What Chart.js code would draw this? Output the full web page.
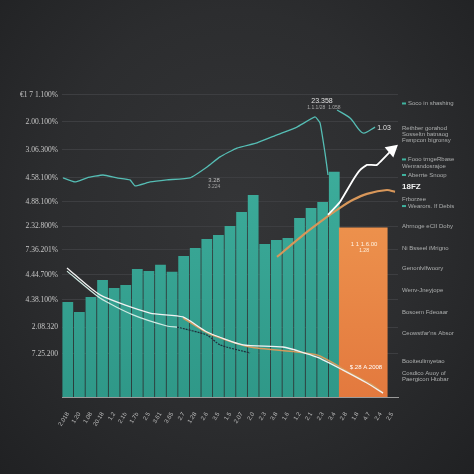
<!DOCTYPE html>
<html><head><meta charset="utf-8">
<script src="https://cdn.jsdelivr.net/npm/chart.js@4"></script>
<style>
html,body{margin:0;padding:0;width:474px;height:474px;overflow:hidden;
background:radial-gradient(ellipse at 50% 45%, #343537 0%, #2c2d2f 55%, #202123 100%);}
#wrap{position:absolute;left:0;top:0;width:474px;height:474px;}
</style></head><body><div id="wrap"><canvas id="c" width="474" height="474"></canvas></div>
<script>
// ---- data ----
const categories = ["2.018","1.20","1.08","20.18","1.2","2.1b","1.7b","2.5","3.61","3.65","2.7","1.28","2.6","3.5","1.5","2.07","2.0","2.3","3.8","1.6","1.2","2.1","2.3","3.4","2.8","1.8","4.7","2.4","2.5"];
const barValues = [367,328,386,452,421,432,494,486,510,483,544,575,610,625,660,714,780,591,606,614,691,730,753,869];
const highlightX = [26.0];
const highlightValues = [653];

const yTickValues = [166,270,375,471,568,660,753,846,954,1062,1166];
const yTickLabels = ["7.25.200","2.08.320","4.38.100%","4.44.700%","7.36.201%","2.32.800%","4.88.100%","4.58.100%","3.06.300%","2.00.100%","€1 7 1.100%"];

const tealX = [0.09,1.12,2.16,3.54,4.75,5.87,6.30,7.60,9.06,11.05,12.52,13.64,15.10,16.83,18.56,20.28,21.84,22.27,22.70,22.96];
const tealY = [846,830,846,857,846,838,815,830,838,846,888,927,961,981,1012,1042,1081,1058,942,857];
const tealTailX = [23.74,24.86,25.98,27.02];
const tealTailY = [1108,1077,1019,1042];

const arrowX = [22.96,23.99,25.12,25.72,26.32,27.19,28.48];
const arrowY = [703,753,838,876,896,896,954];

const riseX = [18.56,20.80,22.87,23.99,25.12,26.32,28.05,28.74];
const riseY = [541,625,695,730,761,784,799,792];

const fallWhiteX = [0.43,3.28,7.60,10.44,12.52,15.62,19.07,22.01,24.25,26.32,27.71];
const fallWhiteY = [498,394,324,309,251,201,193,154,104,54,15];

const fallPaleX = [0.43,3.28,6.13,9.06,9.93];
const fallPaleY = [486,382,317,274,270];

const fallDarkX = [9.93,12.52,13.64,16.23];
const fallDarkY = [270,239,201,170];

const fallOrangeX = [10.44,12.77,16.23,22.01,24.86,26.84,27.71];
const fallOrangeY = [305,243,193,162,93,46,15];

const sideNotes = [
 ["Soco in shashing",1133,true],["Rethber gorahod",1036],["Sosseltn batnaog",1013],["Fwnpcon bigronsy",990],
 ["Fooo trngeRbase",917,true],["Wenrandosrajoe",892],["Aberrte Snoop",857,true],["18FZ",811,false,true],
 ["Frborzee",764],["Wearors. If Debis",737,true],["Ahrnoge eCII Doby",660],["Ni Bsseel iMrigno",575],
 ["Genonlvlfwoory",498],["Wenv-Jneyjope",413],["Bosoem Fdeoaar",328],["Ceowstfar'ns Absor",247],
 ["Booiteulimyetao",139],["Cosdico Auoy of",93],["Paergicon Htobar",69]
];
const notes = [
 ["23.358",22.44,1143,7,"#e0e0e0"],["1.1.1/28  1.058",22.61,1116,5,"#a8a8a8"],
 ["1.03",27.79,1039,7,"#e0e0e0"],["3.28",13.12,838,6,"#bdbdbd"],["3.224",13.12,811,5,"#a0a0a0"],
 ["1 1 1.6.00",26.07,591,6,"#fff2e0"],["1.28",26.07,564,5,"#fff2e0"],["$.28 A.2008",26.24,116,6,"#ffffff"]
];

const pts = (xs, ys) => xs.map((x,i)=>({x, y: ys[i]}));

function vGrad(ctx, c1, c2){
  const ch = ctx.chart; const a = ch.chartArea;
  if(!a) return c1;
  const g = ch.ctx.createLinearGradient(0, a.top, 0, a.bottom);
  g.addColorStop(0, c1); g.addColorStop(1, c2); return g;
}

const textPlugin = {
  id:'texts',
  afterDraw(chart){
    const c = chart.ctx, xl = chart.scales.xl, y = chart.scales.y, a = chart.chartArea;
    c.save();
    c.textBaseline = 'middle';
    for(const [t,u,v,s,col] of notes){
      c.font = s + 'px "Liberation Sans", sans-serif';
      c.fillStyle = col; c.textAlign = 'center';
      c.fillText(t, xl.getPixelForValue(u), y.getPixelForValue(v));
    }
    const x0 = a.right + 4;
    for(const [t,v,mark,bold] of sideNotes){
      const py = y.getPixelForValue(v);
      c.textAlign = 'left';
      if(bold){ c.font = 'bold 8px "Liberation Sans", sans-serif'; c.fillStyle = '#f0f0f0'; }
      else { c.font = '6px "Liberation Sans", sans-serif'; c.fillStyle = '#acaeae'; }
      if(mark){ c.fillStyle = '#3fb39f'; c.fillRect(x0, py-1, 4, 2); c.fillStyle = '#acaeae'; c.fillText(t, x0+6, py); }
      else c.fillText(t, x0, py);
    }
    c.restore();
  }
};

new Chart(document.getElementById('c'), {
  type:'bar',
  data:{ labels: categories, datasets:[
    {type:'line', xAxisID:'xl', data:pts(tealX,tealY), borderColor:'#55bdb4', borderWidth:1.3, pointRadius:0, tension:0.12, order:0},
    {type:'line', xAxisID:'xl', data:pts(tealTailX,tealTailY), borderColor:'#55bdb4', borderWidth:1.3, pointRadius:0, tension:0.3, order:0},
    {type:'line', xAxisID:'xl', data:pts(riseX,riseY), borderColor:'#d8975a', borderWidth:2.2, pointRadius:0, tension:0.2, order:1},
    {type:'line', xAxisID:'xl', data:pts(arrowX,arrowY), borderColor:'#ffffff', borderWidth:1.8, tension:0.1, order:0,
      pointRadius: arrowX.map((_,i)=> i===arrowX.length-1 ? 6 : 0), pointStyle:'triangle', pointRotation:50,
      pointBackgroundColor:'#ffffff', pointBorderColor:'#ffffff'},
    {type:'line', xAxisID:'xl', data:pts(fallPaleX,fallPaleY), borderColor:'#cfe9e2', borderWidth:1.2, pointRadius:0, tension:0.2, order:1},
    {type:'line', xAxisID:'xl', data:pts(fallWhiteX,fallWhiteY), borderColor:'#f2f2f2', borderWidth:1.3, pointRadius:0, tension:0.2, order:1},
    {type:'line', xAxisID:'xl', data:pts(fallOrangeX,fallOrangeY), borderColor:'#d39a5c', borderWidth:1.6, pointRadius:0, tension:0.2, order:1},
    {type:'line', xAxisID:'xl', data:pts(fallDarkX,fallDarkY), borderColor:'#1f2d3a', borderWidth:1.2, borderDash:[2,1], pointRadius:0, tension:0.2, order:1},
    {type:'bar', data:barValues, backgroundColor:(ctx)=>vGrad(ctx,'#41b3a1','#2f9888'), barPercentage:0.93, categoryPercentage:1, grouped:false, order:5},
    {type:'bar', xAxisID:'xl', data:pts(highlightX,highlightValues), backgroundColor:(ctx)=>vGrad(ctx,'#f4a458','#e3793e'), barThickness:48, grouped:false, order:4}
  ]},
  options:{
    responsive:false, animation:false,
    layout:{padding:{top:90,right:76,left:0,bottom:0}},
    plugins:{legend:{display:false}, tooltip:{enabled:false}},
    scales:{
      x:{ type:'category', offset:true, grid:{display:false},
          border:{display:true,color:'#9a9a9a',width:1},
          ticks:{color:'#bdbdbd', font:{family:'Liberation Sans',size:6}, minRotation:58, maxRotation:58, autoSkip:false, padding:6},
          afterFit(s){ s.height = 77; } },
      xl:{ type:'linear', min:0, max:29, offset:false, display:false },
      y:{ type:'linear', min:0, max:1185,
          grid:{color:'#3d3e41', lineWidth:1, drawTicks:false},
          border:{display:false},
          afterBuildTicks(s){ s.ticks = yTickValues.map(v=>({value:v})); },
          ticks:{ color:'#c6c6c6', font:{family:'Liberation Serif', size:7.5}, padding:4,
                  callback:(v,i)=> yTickLabels[i] },
          afterFit(s){ s.width = 62; } }
    }
  },
  plugins:[textPlugin]
});
</script></body></html>
